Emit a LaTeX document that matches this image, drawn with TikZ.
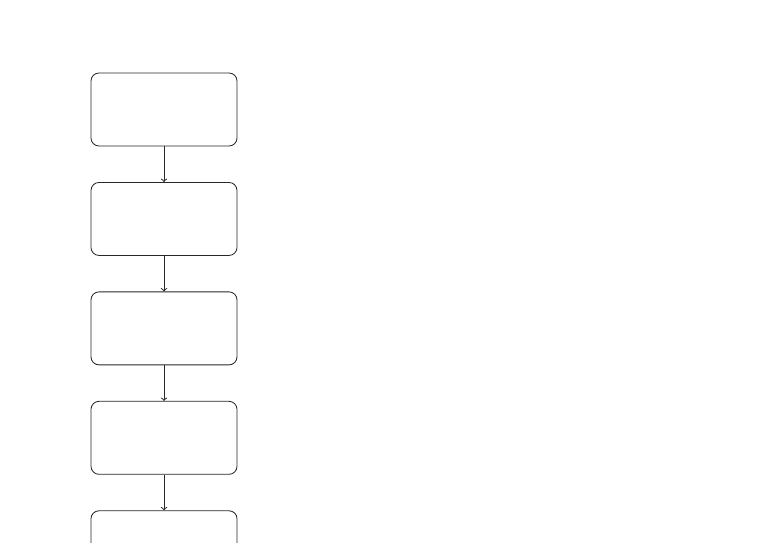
\documentclass[tikz,border=0pt]{standalone}
\usepackage{tikz}
\usetikzlibrary{arrows,shapes,positioning}
\usepackage{xcolor}
\definecolor{boxline}{RGB}{40,40,40}
\tikzstyle{arrow} = [->,color=boxline,line width=0.7pt]
\tikzstyle{stage} = [rectangle, rounded corners=0.2cm, minimum width=3.65cm, minimum height=1.825cm, inner sep=0pt, text centered, draw=boxline, line width=0.6pt]

\begin{document}
\begin{tikzpicture}[node distance=0.89cm]
\useasboundingbox (0,0) rectangle (19.2,13.575);
% Stage 1
\node (stageone) [stage] at (4.1,10.8375) {};

% Stage 2
\node (stagetwo) [stage, below=of stageone] {};

% Stage 3
\node (stagethree) [stage, below=of stagetwo] {};

% Stage 4
\node (stagefour) [stage, below=of stagethree] {};

% Stage 5
\node (stagefive) [stage, below=of stagefour] {};

\draw [arrow] (stageone) -- (stagetwo);
\draw [arrow] (stagetwo) -- (stagethree);
\draw [arrow] (stagethree) -- (stagefour);
\draw [arrow] (stagefour) -- (stagefive);

\end{tikzpicture}
\end{document}
